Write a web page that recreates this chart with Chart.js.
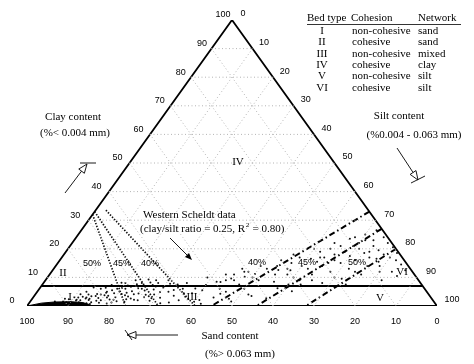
<!DOCTYPE html>
<html>
<head>
<meta charset="utf-8">
<script src="https://cdn.jsdelivr.net/npm/chart.js@4.4.0/dist/chart.umd.min.js"></script>
<style>
  html, body { margin: 0; padding: 0; background: #fff; }
  canvas { display: block; }
</style>
</head>
<body>
<canvas id="ternary" width="474" height="364"></canvas>
<script>
// ternary values, all in percent: [sand, clay] (silt = 100 - sand - clay)
const tickValues = [0, 10, 20, 30, 40, 50, 60, 70, 80, 90, 100];
const gridLevels = [10, 20, 30, 40, 50, 60, 70, 80, 90];
const cohesiveClay = 7;

// sand network boundaries (porosity), endpoints [sand, clay]
const sandNetLabels = ['50%', '45%', '40%'];
const sandNetTop = [[68, 32], [67, 33], [64, 33.5]];
const sandNetBottom = [[76, 0], [68, 0], [59, 0]];

// silt network boundaries (porosity), endpoints [sand, clay]
const siltNetLabels = ['40%', '45%', '50%'];
const siltNetTop = [[0, 33], [0, 27], [0, 20]];
const siltNetBottom = [[55, 0], [44, 0], [32, 0]];

// Western Scheldt samples: silt and clay content
const wsSilt = [
  10, 11, 12, 13, 14, 15, 16, 17, 18, 19, 20, 21, 22, 23, 24, 25, 26, 27, 28, 29,
  30, 31, 32, 33, 34, 12, 15, 18, 20, 22, 16, 19, 24, 27, 14, 17, 20, 23, 26, 29,
  13, 25, 28, 35, 36, 38, 40, 42, 44, 46, 48, 8, 9, 11, 13, 15, 17, 19, 21, 6,
  32, 36, 40, 44, 48, 52, 38, 42, 46, 50, 35, 39, 43, 47,
  45, 48, 50, 52, 54, 55, 57, 58, 60, 61, 62, 63, 64, 65, 66, 67, 68, 69, 70, 71,
  72, 73, 74, 75, 76, 77, 78, 79, 80, 70, 66, 62, 58, 54, 50, 46, 44, 52, 56, 60,
  64, 68, 72, 76, 78, 56, 60, 64, 68, 73, 82, 81, 58, 62, 66, 70, 74, 57, 63, 69,
  7, 8, 9, 10, 11, 12, 13, 14, 15, 16, 17, 18, 19, 20, 21, 22, 23, 24, 25, 26,
  27, 28, 29, 30, 18, 21, 24, 26, 28, 31, 33, 16, 19, 22, 25, 14, 17, 20, 23, 13,
  11, 9, 10, 12, 15, 17, 20, 23, 27, 30,
  34, 37, 41, 45, 49, 53, 57, 62, 40, 45, 50, 55, 48, 43, 38, 60, 65, 58,
  70, 72, 75, 71, 67, 64, 74, 77, 79, 83, 84, 80, 76, 72, 68, 63, 85, 86, 82, 74
];
const wsClay = [
  1.5, 3, 2, 4, 2.5, 3.5, 1.8, 5, 3, 4.5, 2.2, 6, 3.8, 5.2, 2.6, 4.4, 7, 3.1, 5.8, 4,
  6.5, 2.9, 5, 7.5, 3.6, 5, 6, 7, 8, 9, 4, 6, 8, 9, 1, 2, 1.2, 1.5, 2, 1.8,
  6.5, 6, 8, 6, 4.5, 7, 5.5, 8.5, 6, 9, 7.5, 2.5, 1.2, 2.2, 3, 1.3, 3.8, 0.9, 4.2, 1.6,
  1, 2, 1.5, 3, 2.5, 4, 4.5, 0.8, 5, 6, 8, 10, 11, 12,
  11, 12, 10, 13, 14, 11, 15, 12.5, 14, 16.5, 13, 15.5, 17, 14, 18, 16, 19, 15, 17.5, 20,
  16, 18.5, 21, 17, 19.5, 22, 18, 20.5, 17, 22, 21, 19, 17, 16, 14, 13, 9, 9, 8.5, 10,
  11, 12, 13, 14, 15.5, 18, 20, 22, 24, 23, 16, 18.5, 11, 9, 15, 10, 12, 13, 17, 21,
  0.8, 1.6, 2.4, 0.6, 1.9, 3.2, 0.9, 2.1, 4.2, 2.8, 1.1, 3.6, 2.3, 5.1, 1.7, 4.6, 3.3, 6.2, 2.2, 5.4,
  3.9, 6.8, 2.7, 4.9, 5.5, 7.2, 4.1, 8.2, 3.4, 7.8, 5.6, 6.4, 8.1, 6.7, 9.3, 3.4, 4.6, 3.1, 7.6, 2.6,
  4.1, 1.2, 3.1, 1.3, 0.7, 7.3, 6.3, 2.4, 7.3, 9,
  1.2, 3.2, 2.1, 4.3, 1.6, 3.5, 2.7, 5.2, 7.3, 9.6, 11.2, 12.6, 10.2, 8.4, 6.1, 7.5, 9, 6.2,
  25, 26.5, 24, 23, 23.5, 20, 19, 16.5, 14, 12, 14.5, 12, 11, 9.5, 8, 7.5, 10.5, 12.5, 9, 7.5
];
// dense streak of almost clean sand near the sand corner: [silt, clay]
const streakSilt = [0, 3, 6, 10, 13, 15, 14, 8, 0];
const streakClay = [0, 1.0, 1.4, 1.5, 1.2, 0.5, 0.1, 0, 0];

function pt(sand, clay) {
  const silt = 100 - sand - clay;
  return { x: silt + clay / 2, y: clay };
}
function ptSilt(silt, clay) {
  return { x: silt + clay / 2, y: clay };
}

const datasets = [];
const gridStyle = { borderColor: '#b4b4b4', borderWidth: 1, borderDash: [1, 2.5] };
gridLevels.forEach(v => {
  // constant clay
  datasets.push(Object.assign({ data: [pt(100 - v, v), pt(0, v)] }, gridStyle));
  // constant sand
  datasets.push(Object.assign({ data: [pt(v, 100 - v), pt(v, 0)] }, gridStyle));
  // constant silt
  datasets.push(Object.assign({ data: [ptSilt(v, 100 - v), ptSilt(v, 0)] }, gridStyle));
});
// triangle outline
datasets.push({ data: [pt(100, 0), pt(0, 100), pt(0, 0), pt(100, 0)], borderColor: '#000', borderWidth: 1.8 });
// cohesive / non-cohesive transition
datasets.push({ data: [pt(100 - cohesiveClay, cohesiveClay), pt(0, cohesiveClay)], borderColor: '#000', borderWidth: 2 });
sandNetTop.forEach((p, i) => {
  datasets.push({ data: [pt(p[0], p[1]), pt(sandNetBottom[i][0], sandNetBottom[i][1])],
    borderColor: '#111', borderWidth: 1.7, borderDash: [1.4, 1.6] });
});
siltNetTop.forEach((p, i) => {
  datasets.push({ data: [pt(p[0], p[1]), pt(siltNetBottom[i][0], siltNetBottom[i][1])],
    borderColor: '#000', borderWidth: 2, borderDash: [6, 3, 1.5, 3] });
});
datasets.push({
  data: streakSilt.map((s, i) => ptSilt(s, streakClay[i])),
  borderColor: '#000', backgroundColor: '#000', borderWidth: 1, fill: 'shape'
});
datasets.push({
  data: wsSilt.map((s, i) => ptSilt(s, wsClay[i])),
  showLine: false, pointRadius: 1, backgroundColor: '#111', borderWidth: 0
});

const serif = '"Liberation Serif", "DejaVu Serif", serif';
const sans = '"Liberation Sans", Arial, sans-serif';

const textPlugin = {
  id: 'ternaryText',
  afterDatasetsDraw(chart) {
    const ctx = chart.ctx;
    const sx = chart.scales.x, sy = chart.scales.y;
    const px = p => ({ x: sx.getPixelForValue(p.x), y: sy.getPixelForValue(p.y) });
    ctx.save();
    ctx.fillStyle = '#000';
    ctx.strokeStyle = '#000';
    ctx.textBaseline = 'middle';

    // tick labels
    ctx.font = '9px ' + sans;
    tickValues.forEach(v => {
      let a = px(pt(100 - v, v));
      ctx.textAlign = 'center';
      ctx.fillText(String(v), a.x - 15 + 0.06 * v, a.y - 5);
      a = px(ptSilt(v, 100 - v));
      ctx.fillText(String(v), a.x + 11 + 0.04 * v, a.y - 6);
      a = px(pt(v, 0));
      ctx.fillText(String(v), a.x, a.y + 16);
    });

    // network labels
    ctx.font = '9px ' + sans;
    ctx.textAlign = 'center';
    sandNetLabels.forEach((t, i) => ctx.fillText(t, [92, 122, 150][i], 264));
    siltNetLabels.forEach((t, i) => ctx.fillText(t, [257, 307, 357][i], 263));

    // bed types
    ctx.font = '11px ' + serif;
    [['I', 70, 297], ['II', 63, 273], ['III', 192, 297], ['IV', 238, 162], ['V', 380, 298], ['VI', 402, 272]]
      .forEach(b => ctx.fillText(b[0], b[1], b[2]));

    // axis titles
    ctx.font = '11px ' + serif;
    ctx.fillText('Clay content', 73, 117);
    ctx.fillText('(%< 0.004 mm)', 75, 133);
    ctx.fillText('Silt content', 399, 116);
    ctx.fillText('(%0.004 - 0.063 mm)', 414, 135);
    ctx.fillText('Sand content', 230, 336);
    ctx.fillText('(%> 0.063 mm)', 240, 354);

    ctx.textAlign = 'left';
    ctx.fillText('Western Scheldt data', 143, 215);
    let t1 = '(clay/silt ratio = 0.25, R';
    ctx.fillText(t1, 140, 229);
    let w1 = ctx.measureText(t1).width;
    ctx.font = '7px ' + serif;
    ctx.fillText('2', 140 + w1 + 0.5, 225);
    ctx.font = '11px ' + serif;
    ctx.fillText(' = 0.80)', 140 + w1 + 4.5, 229);

    // legend table
    ctx.fillText('Bed type', 307, 18);
    ctx.fillText('Cohesion', 351, 18);
    ctx.fillText('Network', 418, 18);
    const rows = [['I', 'non-cohesive', 'sand'], ['II', 'cohesive', 'sand'], ['III', 'non-cohesive', 'mixed'],
      ['IV', 'cohesive', 'clay'], ['V', 'non-cohesive', 'silt'], ['VI', 'cohesive', 'silt']];
    rows.forEach((r, i) => {
      const y = 31 + i * 11.4;
      ctx.textAlign = 'center';
      ctx.fillText(r[0], 322, y);
      ctx.textAlign = 'left';
      ctx.fillText(r[1], 352, y);
      ctx.fillText(r[2], 418, y);
    });
    ctx.lineWidth = 0.8;
    ctx.beginPath();
    ctx.moveTo(307, 24.5); ctx.lineTo(461, 24.5);
    ctx.stroke();

    // arrows
    function arrow(x0, y0, x1, y1) {
      const ang = Math.atan2(y1 - y0, x1 - x0);
      const len = 9, w = 3.5;
      const bx = x1 - len * Math.cos(ang), by = y1 - len * Math.sin(ang);
      ctx.lineWidth = 0.9;
      ctx.beginPath();
      ctx.moveTo(x0, y0); ctx.lineTo(bx, by);
      ctx.stroke();
      ctx.beginPath();
      ctx.moveTo(x1, y1);
      ctx.lineTo(bx + w * Math.sin(ang), by - w * Math.cos(ang));
      ctx.lineTo(bx - w * Math.sin(ang), by + w * Math.cos(ang));
      ctx.closePath();
      ctx.stroke();
    }
    arrow(65, 193, 87, 164);
    ctx.beginPath(); ctx.moveTo(80, 163); ctx.lineTo(96, 163); ctx.stroke();
    arrow(397, 148, 418, 180);
    ctx.beginPath(); ctx.moveTo(411, 183); ctx.lineTo(425, 176); ctx.stroke();
    arrow(178, 335, 127, 335);
    ctx.beginPath(); ctx.moveTo(125, 330); ctx.lineTo(132, 340); ctx.stroke();
    // Western Scheldt pointer
    ctx.lineWidth = 0.9;
    ctx.beginPath(); ctx.moveTo(170, 238); ctx.lineTo(191, 259); ctx.stroke();
    ctx.beginPath(); ctx.moveTo(192, 260); ctx.lineTo(185, 257); ctx.lineTo(189, 253); ctx.closePath(); ctx.fill();
    ctx.restore();
  }
};

new Chart(document.getElementById('ternary').getContext('2d'), {
  type: 'scatter',
  data: { datasets: datasets },
  options: {
    responsive: false,
    devicePixelRatio: 1,
    animation: false,
    layout: { padding: { left: 27, right: 37, top: 20, bottom: 58 } },
    elements: { point: { radius: 0 }, line: { tension: 0 } },
    datasets: { scatter: { showLine: true, pointRadius: 0 } },
    scales: {
      x: { type: 'linear', min: 0, max: 100, display: false },
      y: { type: 'linear', min: 0, max: 100, display: false }
    },
    plugins: { legend: { display: false }, tooltip: { enabled: false } }
  },
  plugins: [textPlugin]
});
</script>
</body>
</html>
